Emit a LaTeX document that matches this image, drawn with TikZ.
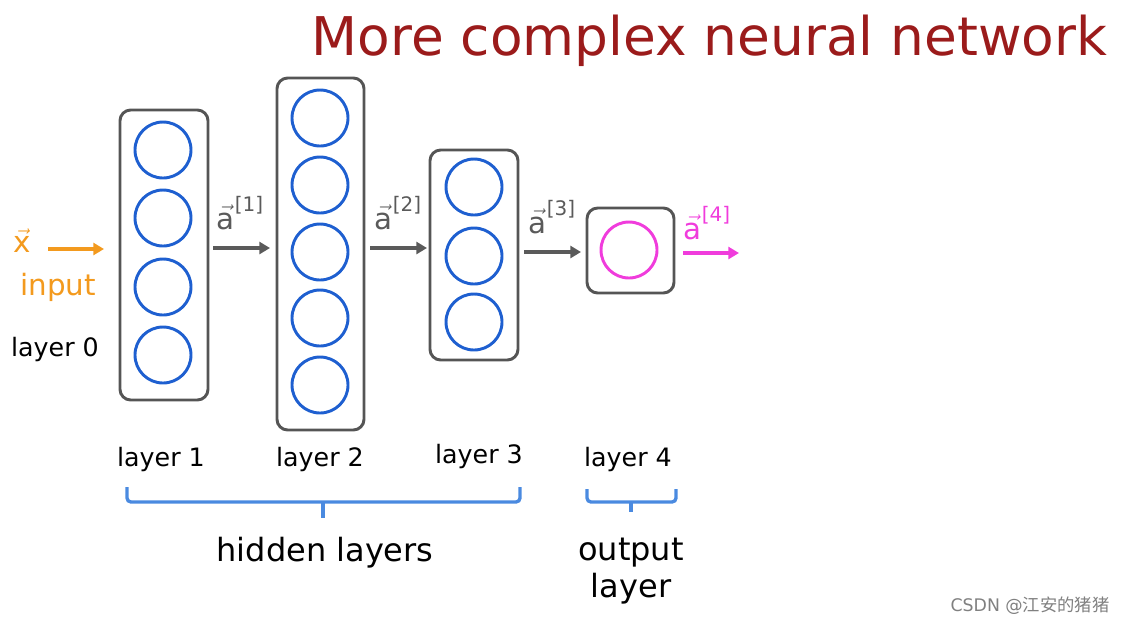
\documentclass[tikz,border=0pt]{standalone}
\usepackage{fontspec}
\setmainfont{DejaVu Sans}
\newfontfamily\cjk{Noto Sans CJK SC}
\usetikzlibrary{arrows.meta}
\definecolor{tred}{HTML}{9B1B1B}
\definecolor{nblue}{HTML}{1E5FD0}
\definecolor{bblue}{HTML}{4A8AE0}
\definecolor{bgray}{HTML}{555555}
\definecolor{agray}{HTML}{5A5A5A}
\definecolor{ora}{HTML}{F39A1E}
\definecolor{mag}{HTML}{F03CDC}
\newcommand{\vecsup}[2]{\ensuremath{\vec{\hbox{#1}}}\raisebox{1.1ex}{\fontsize{15}{16}\selectfont[#2]}}
\begin{document}
\begin{tikzpicture}[x=0.75pt,y=-0.75pt,
 box/.style={draw=bgray,line width=2.2pt,rounded corners=8pt},
 neu/.style={circle,draw=nblue,line width=2.2pt,minimum size=42pt,inner sep=0pt},
 arr/.style={-{Triangle[length=8pt,width=9pt]},line width=3pt},
 lbl/.style={font=\fontsize{19}{22}\selectfont},
 vl/.style={font=\fontsize{22}{24}\selectfont,inner sep=0pt},
 brace/.style={draw=bblue,line width=2.5pt,rounded corners=3pt}]
\useasboundingbox (0,0) rectangle (1126,626);
\node[text=tred,anchor=base east,font=\fontsize{40}{46}\selectfont] (title) at (1112,55) {More complex neural network};
% boxes
\draw[box] (120,110) rectangle (208,400);
\draw[box] (277,78) rectangle (364,430);
\draw[box] (430,150) rectangle (518,360);
\draw[box] (587,208) rectangle (674,293);
\foreach \y [count=\i] in {150,218,287,355} \node[neu] (a\i) at (163,\y) {};
\foreach \y [count=\i] in {118,185,252,318,385} \node[neu] (b\i) at (320,\y) {};
\foreach \y [count=\i] in {187,256,322} \node[neu] (c\i) at (474,\y) {};
\node[neu,draw=mag] (d1) at (629,250) {};
% arrows
\coordinate (i0) at (48,249); \coordinate (i1) at (104,249);
\draw[arr,ora] (i0) -- (i1);
\coordinate (p0) at (213,248); \coordinate (p1) at (270,248);
\draw[arr,agray] (p0) -- (p1);
\coordinate (q0) at (370,248); \coordinate (q1) at (427,248);
\draw[arr,agray] (q0) -- (q1);
\coordinate (r0) at (524,252); \coordinate (r1) at (581,252);
\draw[arr,agray] (r0) -- (r1);
\coordinate (s0) at (683,253); \coordinate (s1) at (739,253);
\draw[arr,mag] (s0) -- (s1);
% labels
\node[vl,text=ora] (xv) at (22,241) {\ensuremath{\vec{\hbox{x}}}};
\node[lbl,text=ora,font=\fontsize{22}{24}\selectfont] (inp) at (58,287) {input};
\node[lbl] (l0) at (55,349) {layer 0};
\node[vl,text=agray] (a1l) at (240,213) {\vecsup{a}{1}};
\node[vl,text=agray] (a2l) at (398,213) {\vecsup{a}{2}};
\node[vl,text=agray] (a3l) at (552,217) {\vecsup{a}{3}};
\node[vl,text=mag] (a4l) at (707,223) {\vecsup{a}{4}};
\node[lbl] (L1) at (161,459) {layer 1};
\node[lbl] (L2) at (320,459) {layer 2};
\node[lbl] (L3) at (479,456) {layer 3};
\node[lbl] (L4) at (628,459) {layer 4};
% braces
\draw[brace] (127,487) -- (127,502) -- (520,502) -- (520,487);
\draw[draw=bblue,line width=2.5pt] (323,502) -- (323,518);
\draw[brace] (587,489) -- (587,502) -- (676,502) -- (676,489);
\draw[draw=bblue,line width=2.5pt] (631,502) -- (631,512);
\node[font=\fontsize{24}{28}\selectfont] (hid) at (325,553) {hidden layers};
\node[font=\fontsize{24}{28}\selectfont,align=center] (out) at (631,571) {output\\layer};
\node[text=gray,font=\fontsize{13}{15}\selectfont] (wm) at (1030,606) {CSDN @{\cjk 江安的猪猪}};
\end{tikzpicture}
\end{document}
